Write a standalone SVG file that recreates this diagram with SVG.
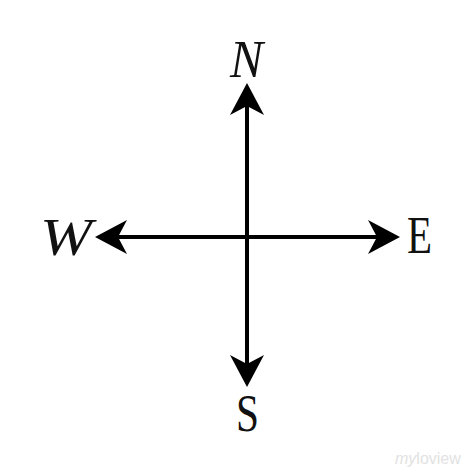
<svg xmlns="http://www.w3.org/2000/svg" width="474" height="474" viewBox="0 0 474 474">
<style>
.line{stroke:#000;stroke-width:4;fill:none}
.lbl{font-family:"Liberation Serif","DejaVu Serif",serif;font-size:53px;fill:#111}
.it{font-style:italic}
.wm{font-family:"Liberation Sans",Arial,sans-serif;font-size:16px;fill:#e2e2e2}
</style>
<defs>
<marker id="ah" viewBox="-33 -18 34 36" refX="-22" refY="0" markerWidth="34" markerHeight="36" markerUnits="userSpaceOnUse" orient="auto">
<path d="M0,0 L-32,-17 L-23,0 L-32,17 Z" fill="#000"/>
</marker>
</defs>
<rect width="474" height="474" fill="#fff"/>
<g id="connectors">
<line class="line" x1="247" y1="237" x2="247" y2="105" marker-end="url(#ah)"/>
<line class="line" x1="247" y1="237" x2="247" y2="365" marker-end="url(#ah)"/>
<line class="line" x1="247" y1="237" x2="117" y2="237" marker-end="url(#ah)"/>
<line class="line" x1="247" y1="237" x2="378" y2="237" marker-end="url(#ah)"/>
</g>
<g id="N"><text class="lbl it" x="230" y="77" textLength="33" lengthAdjust="spacingAndGlyphs">N</text></g>
<g id="W"><text class="lbl it" x="40" y="255" textLength="52" lengthAdjust="spacingAndGlyphs">W</text></g>
<g id="E"><text class="lbl" x="407" y="253" textLength="25" lengthAdjust="spacingAndGlyphs">E</text></g>
<g id="S"><text class="lbl" x="236" y="431" textLength="23" lengthAdjust="spacingAndGlyphs">S</text></g>
<text class="wm" x="395" y="464"><tspan font-style="italic">my</tspan>loview</text>
</svg>
